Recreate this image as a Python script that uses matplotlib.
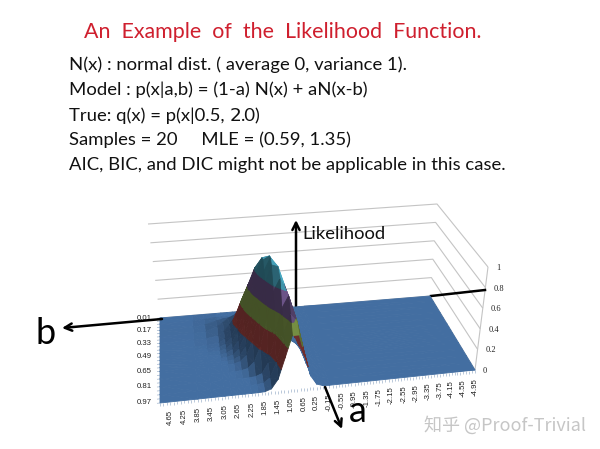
import numpy as np
import matplotlib
matplotlib.use('Agg')
import matplotlib.pyplot as plt
from matplotlib.collections import PolyCollection, LineCollection

plt.rcParams['font.family'] = ['Lato', 'DejaVu Sans']

title = 'An  Example  of  the  Likelihood  Function.'
notes = ['N(x) : normal dist. ( average 0, variance 1).',
         'Model : p(x|a,b) = (1-a) N(x) + aN(x-b)',
         None,
         'Samples = 20     MLE = (0.59, 1.35)',
         'AIC, BIC, and DIC might not be applicable in this case.']

b_labels = [4.65, 4.25, 3.85, 3.45, 3.05, 2.65, 2.25, 1.85, 1.45, 1.05, 0.65, 0.25,
            -0.15, -0.55, -0.95, -1.35, -1.75, -2.15, -2.55, -2.95, -3.35, -3.75,
            -4.15, -4.55, -4.95]
a_labels = [0.01, 0.17, 0.33, 0.49, 0.65, 0.81, 0.97]
z_labels = [0, 0.2, 0.4, 0.6, 0.8, 1]

# surface, coarse grid
b_grid = [4.95, 3.85, 3.45, 3.05, 2.85, 2.65, 2.45, 2.25, 2.05, 1.85, 1.65, 1.45, 1.25,
          1.05, 0.85, 0.65, 0.45, 0.25, 0.05, -0.15, -4.95]
a_grid = [0.01, 0.09, 0.17, 0.25, 0.33, 0.41, 0.45, 0.49, 0.53, 0.57, 0.61, 0.65, 0.73, 0.81, 0.89, 0.97]
likelihood = [
    [0, 0, 0, 0, 0, 0, 0, 0, 0, 0, 0, 0, 0, 0, 0, 0, 0, 0, 0, 0, 0],
    [0, 0, .01, .02, .02, .02, .01, .01, 0, 0, 0, 0, 0, 0, 0, 0, 0, 0, 0, 0, 0],
    [0, .005, .016, .047, .06, .07, .067, .055, .038, .023, .011, .005, 0, 0, 0, 0, 0, 0, 0, 0, 0],
    [0, .004, .01, .053, .09, .13, .157, .157, .13, .09, .053, .026, .01, 0, 0, 0, 0, 0, 0, 0, 0],
    [0, 0, .005, .022, .06, .124, .21, .295, .33, .295, .21, .124, .06, .022, .006, 0, 0, 0, 0, 0, 0],
    [0, 0, .004, .016, .052, .132, .271, .439, .572, .59, .489, .32, .167, .07, .023, .007, 0, 0, 0, 0, 0],
    [0, 0, 0, .008, .032, .096, .223, .417, .618, .735, .694, .524, .314, .148, .058, .017, .004, 0, 0, 0, 0],
    [0, 0, 0, .004, .02, .068, .174, .369, .616, .816, .864, .727, .49, .262, .113, .038, .01, 0, 0, 0, 0],
    [0, 0, 0, 0, .011, .042, .124, .286, .536, .794, .943, .891, .673, .403, .19, .074, .022, .005, 0, 0, 0],
    [0, 0, 0, 0, .005, .022, .076, .205, .435, .726, .95, .986, .804, .516, .265, .106, .033, .008, 0, 0, 0],
    [0, 0, 0, 0, 0, .01, .041, .127, .31, .588, .869, 1.0, .891, .619, .334, .141, .046, .012, 0, 0, 0],
    [0, 0, 0, 0, 0, .004, .021, .076, .215, .461, .758, .958, .934, .701, .405, .177, .06, .016, .003, 0, 0],
    [0, 0, 0, 0, 0, 0, .004, .018, .075, .218, .475, .752, .88, .752, .475, .218, .075, .018, .003, 0, 0],
    [0, 0, 0, 0, 0, 0, 0, 0, .005, .028, .127, .36, .65, .766, .57, .277, .085, .017, 0, 0, 0],
    [0, 0, 0, 0, 0, 0, 0, 0, .002, .009, .053, .20, .455, .65, .576, .32, .108, .023, .003, 0, 0],
    [0, 0, 0, 0, 0, 0, 0, 0, 0, .003, .024, .11, .31, .517, .517, .31, .11, .024, .003, 0, 0],
]

band_edges = [0, 0.2, 0.4, 0.6, 0.8, 1.01]
band_colors = ['#4F81BD', '#C0504D', '#9BBB59', '#8064A2', '#4BACC6']

# box corners in pixels: back left, back right, front right, front left
floor_px = [(160, 318), (430, 296), (475, 370), (160, 403)]
top_px = [(148, 224), (437, 204), (488, 267), (151, 299)]


def homography(dst):
    src = [(0, 0), (1, 0), (1, 1), (0, 1)]
    A, rhs = [], []
    for (u, v), (x, y) in zip(src, dst):
        A.append([u, v, 1, 0, 0, 0, -u * x, -v * x])
        A.append([0, 0, 0, u, v, 1, -u * y, -v * y])
        rhs += [x, y]
    return np.append(np.linalg.solve(np.array(A, float), np.array(rhs, float)), 1).reshape(3, 3)


H_floor = homography(floor_px)
H_top = homography(top_px)


def apply(H, u, v):
    p = H @ np.array([u, v, 1.0])
    return p[:2] / p[2]


def project(b, a, z):
    u = (4.95 - b) / 9.9
    v = (a - 0.01) / 0.96
    return (1 - z) * apply(H_floor, u, v) + z * apply(H_top, u, v)


def clip(poly, lo, hi):
    # poly is a list of (b, a, z), cut down to lo <= z <= hi
    for limit, sign in ((lo, 1), (hi, -1)):
        out = []
        for i in range(len(poly)):
            p, q = poly[i], poly[(i + 1) % len(poly)]
            dp, dq = sign * (p[2] - limit), sign * (q[2] - limit)
            if dp >= 0:
                out.append(p)
            if dp * dq < 0:
                t = dp / (dp - dq)
                out.append(tuple(p[k] + t * (q[k] - p[k]) for k in range(3)))
        poly = out
        if not poly:
            break
    return poly


def shade(hex_color, slope):
    # slope > 0 means the face looks to the left: dark. flat floor stays mid blue
    f = 0.85 - 0.42 * (1 - np.exp(-4 * max(slope, 0)))
    if hex_color == band_colors[-1]:
        f += 0.15 * (1 - np.exp(-2 * max(-slope, 0)))
    elif hex_color != band_colors[0]:
        f -= 0.3 * (1 - np.exp(-2 * max(-slope, 0)))
    rgb = np.array(matplotlib.colors.to_rgb(hex_color)) * f
    return tuple(np.clip(rgb, 0, 1))


fig = plt.figure(figsize=(6, 4.49), dpi=100)
ax = fig.add_axes([0, 0, 1, 1])
ax.set_xlim(0, 600)
ax.set_ylim(449, 0)
ax.axis('off')

# walls
grid_lines = []
for z in z_labels:
    grid_lines.append([project(4.95, 0.01, z), project(-4.95, 0.01, z), project(-4.95, 0.97, z)])
grid_lines.append([project(-4.95, 0.97, 0), project(-4.95, 0.97, 1)])
ax.add_collection(LineCollection(grid_lines, colors='#c4c4c4', linewidths=0.8, zorder=1))

# arrows behind the surface
arrow = dict(arrowstyle='->', color='black', lw=1.8, mutation_scale=13, shrinkA=0, shrinkB=0)
ax.plot([431, 485], [296, 290], color='black', lw=1.8, zorder=1.5)
ax.annotate('', xy=(296, 220), xytext=(296, 308), arrowprops=arrow, zorder=1.5)

# surface, back rows first, right to left in each row
polys, colors = [], []
for i in range(len(a_grid) - 1):
    for j in range(len(b_grid) - 2, -1, -1):
        p00 = (b_grid[j], a_grid[i], likelihood[i][j])
        p01 = (b_grid[j + 1], a_grid[i], likelihood[i][j + 1])
        p10 = (b_grid[j], a_grid[i + 1], likelihood[i + 1][j])
        p11 = (b_grid[j + 1], a_grid[i + 1], likelihood[i + 1][j + 1])
        db = b_grid[j] - b_grid[j + 1]
        slope = ((p01[2] - p00[2]) + (p11[2] - p10[2])) / (2 * db)
        for tri in ((p00, p01, p11), (p00, p11, p10)):
            for lo, hi, c in zip(band_edges[:-1], band_edges[1:], band_colors):
                part = clip(list(tri), lo, hi)
                if len(part) >= 3:
                    polys.append([project(*p) for p in part])
                    colors.append(shade(c, slope))
ax.add_collection(PolyCollection(polys, facecolors=colors, edgecolors=colors, linewidths=0.6, zorder=2))

# tick teeth
teeth = []
for a in np.arange(0.01, 0.98, 0.04):
    p = project(4.95, a, 0)
    teeth.append([p, p + (-3, 0.3)])
for b in np.arange(4.95, -4.96, -0.1):
    p = project(b, 0.97, 0)
    teeth.append([p, p + (0, 3)])
ax.add_collection(LineCollection(teeth, colors='#9fb3cc', linewidths=0.5, zorder=1.8))

tick_font = dict(family='Liberation Sans', fontsize=5.6, color='#222222')
for b in b_labels:
    x, y = project(b, 0.97, 0)
    ax.text(x, y + 8, '%.2f' % b, rotation=90, ha='center', va='top', zorder=3, **tick_font)
for a in a_labels:
    x, y = project(4.95, a, 0)
    ax.text(x - 8, y, '%.2f' % a, ha='right', va='center', zorder=3, **tick_font)
for z in z_labels:
    x, y = project(-4.95, 0.97, z)
    ax.text(x + 8, y + 1, '%g' % z, ha='left', va='center', family='Liberation Serif',
            fontsize=6, color='#222222', zorder=3)

# arrows in front
ax.annotate('', xy=(62, 328), xytext=(162, 319), arrowprops=arrow, zorder=4)
ax.annotate('', xy=(342, 429), xytext=(325, 387), arrowprops=arrow, zorder=4)
ax.text(36, 333, 'b', fontsize=26, va='center', ha='left', color='black')
ax.text(349, 412, 'a', fontsize=26, va='center', ha='left', color='black')
ax.text(302, 234, 'Likelihood', fontsize=13.2, va='center', ha='left', color='#111111')

ax.text(84, 32, title, fontsize=15.4, color='#cf1f2e', va='center', ha='left')
note_y = [65, 90, 116, 140, 165]
for line, y in zip(notes, note_y):
    if line:
        ax.text(69, y, line, fontsize=13.3, color='#111111', va='center', ha='left')

# line three has a stray wide 2 in it
fig.canvas.draw()
x = 69
for part, fam in (('True: q(x) = p(x|0.5, ', 'Lato'), ('2', 'DejaVu Sans'), ('.0)', 'Lato')):
    t = ax.text(x, note_y[2], part, fontsize=13.3, family=fam, color='#111111', va='center', ha='left')
    x = t.get_window_extent(fig.canvas.get_renderer()).x1

ax.text(424, 425, '知乎 @Proof-Trivial', fontsize=13, family=['Noto Sans CJK SC', 'DejaVu Sans'],
        color='#c6c6c6', va='center', ha='left', zorder=5)

fig.savefig('out.png', dpi=100)
